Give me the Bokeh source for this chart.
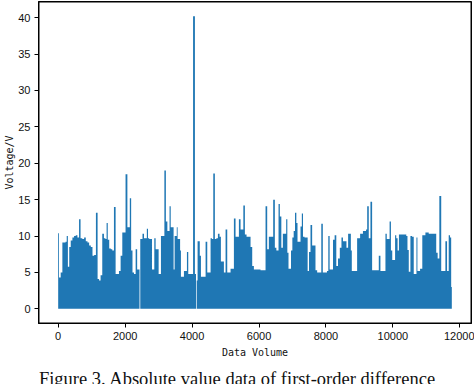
from bokeh.plotting import figure
from bokeh.models import Range1d, FixedTicker, Div
from bokeh.layouts import column
from bokeh.embed import file_html
from bokeh.resources import INLINE

# ---- data (envelope of |first-order difference|) ----
sample_index = [
    0, 50, 100, 150, 200, 240, 270, 310, 350, 400,
    450, 500, 550, 600, 647, 690, 750, 800, 850, 900,
    950, 1000, 1050, 1100, 1155, 1200, 1244, 1290, 1344, 1390,
    1430, 1463, 1500, 1550, 1593, 1640, 1692, 1740, 1792, 1840,
    1891, 1940, 1985, 2040, 2095, 2120, 2160, 2200, 2240, 2289,
    2339, 2380, 2419, 2440, 2465, 2500, 2538, 2590, 2630, 2667,
    2700, 2737, 2787, 2817, 2857, 2886, 2936, 2986, 3016, 3055,
    3085, 3120, 3150, 3195, 3240, 3284, 3314, 3340, 3384, 3433,
    3463, 3493, 3533, 3553, 3583, 3633, 3652, 3682, 3732, 3782,
    3832, 3861, 3911, 3950, 4000, 4060, 4110, 4125, 4150, 4180,
    4210, 4250, 4280, 4330, 4379, 4429, 4478, 4528, 4578, 4610,
    4657, 4705, 4747, 4797, 4846, 4876, 4926, 4976, 5026, 5075,
    5125, 5175, 5225, 5274, 5324, 5374, 5424, 5473, 5510, 5553,
    5603, 5652, 5690, 5722, 5772, 5822, 5871, 5920, 5970, 6020,
    6070, 6120, 6170, 6220, 6269, 6319, 6360, 6399, 6448, 6498,
    6538, 6568, 6598, 6647, 6687, 6737, 6797, 6826, 6866, 6896,
    6936, 6976, 7016, 7055, 7095, 7135, 7165, 7215, 7264, 7294,
    7334, 7384, 7433, 7473, 7513, 7563, 7612, 7662, 7712, 7762,
    7800, 7840, 7881, 7931, 7970, 8010, 8050, 8090, 8130, 8160,
    8190, 8229, 8289, 8329, 8389, 8438, 8488, 8528, 8558, 8588,
    8637, 8687, 8730, 8757, 8787, 8830, 8870, 8906, 8956, 9006,
    9035, 9085, 9125, 9155, 9185, 9210, 9254, 9304, 9354, 9404,
    9450, 9500, 9553, 9603, 9652, 9700, 9752, 9802, 9831, 9881,
    9921, 9961, 10000, 10050, 10080, 10120, 10160, 10200, 10250, 10300,
    10340, 10380, 10420, 10450, 10498, 10548, 10598, 10647, 10690, 10717,
    10747, 10797, 10826, 10860, 10896, 10946, 10996, 11045, 11095, 11140,
    11185, 11230, 11274, 11314, 11360, 11414, 11473, 11510, 11543, 11593,
    11642, 11692, 11722, 11760,
]
abs_diff = [
    10.4, 4.3, 5.0, 9.1, 9.1, 9.2, 10.0, 5.8, 8.5, 9.4,
    9.8, 10.0, 10.1, 9.8, 12.3, 9.7, 9.6, 9.8, 9.3, 9.1,
    8.7, 8.5, 7.3, 7.4, 13.2, 4.1, 3.9, 4.6, 10.3, 9.7,
    9.6, 11.8, 9.5, 8.3, 8.2, 8.0, 14.0, 4.8, 4.8, 5.2,
    7.3, 10.5, 10.5, 18.5, 11.2, 11.2, 15.2, 8.0, 5.0, 4.8,
    8.2, 5.4, 5.4, 0.0, 9.6, 9.6, 10.3, 9.7, 9.7, 11.0,
    9.7, 9.6, 9.6, 5.4, 5.4, 9.7, 8.2, 8.2, 4.8, 4.8,
    10.0, 10.0, 10.0, 19.0, 12.0, 10.7, 10.7, 14.1, 11.2, 11.2,
    5.4, 10.0, 10.0, 11.2, 9.6, 9.6, 8.0, 4.4, 4.4, 5.2,
    5.2, 7.8, 4.8, 4.8, 4.8, 40.2, 4.8, 0.0, 3.9, 9.3,
    9.3, 7.3, 4.4, 4.4, 4.4, 9.2, 5.0, 5.0, 9.7, 9.6,
    18.6, 9.6, 9.7, 10.3, 9.9, 6.5, 6.5, 5.0, 10.9, 5.0,
    5.0, 5.5, 5.5, 12.4, 9.9, 9.9, 12.3, 10.9, 10.9, 14.2,
    10.2, 9.9, 9.9, 9.9, 8.5, 5.9, 5.4, 5.4, 5.4, 5.4,
    5.3, 5.3, 5.3, 14.1, 8.2, 9.9, 9.9, 9.9, 15.0, 8.4,
    8.0, 8.0, 14.4, 12.7, 8.4, 10.3, 10.3, 12.3, 7.7, 5.5,
    5.5, 8.0, 9.8, 10.7, 13.2, 11.8, 9.2, 9.2, 11.3, 13.1,
    9.9, 9.8, 9.8, 5.2, 7.8, 11.5, 8.7, 8.7, 5.3, 5.0,
    5.0, 5.0, 11.7, 5.0, 5.0, 5.0, 5.2, 10.0, 5.4, 5.4,
    5.4, 9.5, 10.1, 5.9, 6.9, 8.4, 9.8, 9.3, 9.3, 9.3,
    8.4, 10.3, 10.3, 8.0, 5.2, 5.2, 5.2, 5.2, 9.7, 9.7,
    10.3, 10.3, 10.7, 10.7, 10.7, 10.9, 14.1, 9.7, 14.7, 5.3,
    5.3, 5.3, 5.3, 7.3, 5.2, 5.2, 5.2, 10.3, 9.6, 9.6,
    12.0, 8.0, 6.7, 6.7, 10.1, 9.7, 8.0, 10.2, 10.2, 10.2,
    10.2, 10.2, 10.0, 8.1, 5.1, 10.0, 9.9, 4.8, 4.8, 9.8,
    5.2, 5.2, 5.5, 5.5, 10.1, 10.1, 10.5, 10.5, 10.3, 10.3,
    10.3, 10.3, 10.3, 7.7, 6.9, 15.5, 5.2, 5.2, 5.2, 9.3,
    5.2, 10.1, 9.8, 3.0,
]
x_ticks = [0, 2000, 4000, 6000, 8000, 10000, 12000]
y_ticks = [0, 5, 10, 15, 20, 25, 30, 35, 40]
x_label = "Data Volume"
y_label = "Voltage/V"
caption = "Figure 3. Absolute value data of first-order difference"

# ---- ranges with matplotlib-like 5% margins ----
n = sample_index[-1]
ymax = max(abs_diff)
x0, x1 = -0.05 * n, 1.05 * n
y0, y1 = -0.05 * ymax, 1.05 * ymax

p = figure(
    width=474, height=368, output_backend="svg", toolbar_location=None,
    x_range=Range1d(x0, x1), y_range=Range1d(y0, y1),
    min_border_left=38, min_border_right=3, min_border_top=1, min_border_bottom=45,
    background_fill_color="white", border_fill_color="white", margin=0,
)

p.varea_step(x=sample_index, y1=0, y2=abs_diff, step_mode="center",
             fill_color="#1f77b4")

# axes box (drawn along the range bounds; half of the 2px line is inside the frame)
p.quad(left=[x0], right=[x1], bottom=[y0], top=[y1], fill_color=None,
       line_color="black", line_width=2)

p.xgrid.visible = False
p.ygrid.visible = False
p.outline_line_color = "black"

xa = p.below[0]
ya = p.left[0]
xa.ticker = FixedTicker(ticks=x_ticks)
ya.ticker = FixedTicker(ticks=y_ticks)
for ax in (xa, ya):
    ax.axis_line_color = "black"
    ax.major_tick_line_color = "black"
    ax.major_tick_in = 0
    ax.major_tick_out = 4
    ax.minor_tick_line_color = None
    ax.major_label_text_font = "Liberation Sans"
    ax.major_label_text_font_size = "11px"
    ax.major_label_text_color = "#111111"
    ax.major_label_standoff = 4
    ax.axis_label_text_font = "DejaVu Sans Mono"
    ax.axis_label_text_font_size = "10px"
    ax.axis_label_text_font_style = "normal"
    ax.axis_label_text_color = "#111111"

xa.axis_label = x_label
xa.axis_label_standoff = 4
ya.axis_label = y_label
ya.axis_label_standoff = 0
ya.axis_label_text_line_height = 1.0

cap = Div(text=caption, width=474, height=16, margin=0,
          styles={"font-family": "Liberation Serif", "font-size": "18.5px",
                  "line-height": "22px", "text-align": "center", "color": "#111111",
                  "overflow": "hidden", "white-space": "nowrap"})

layout = column(p, cap, spacing=0, margin=0)
open("out.html", "w").write(file_html(layout, INLINE))
